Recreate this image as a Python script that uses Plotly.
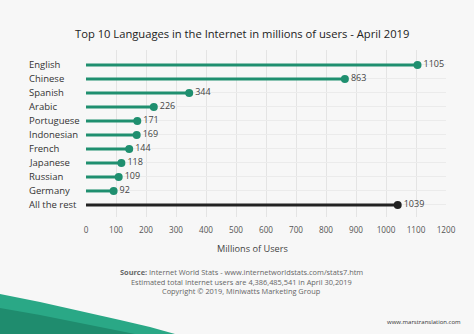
import plotly.graph_objects as go

languages = ["English", "Chinese", "Spanish", "Arabic", "Portuguese", "Indonesian",
             "French", "Japanese", "Russian", "Germany", "All the rest"]
users = [1105, 863, 344, 226, 171, 169, 144, 118, 109, 92, 1039]
x_ticks = [0, 100, 200, 300, 400, 500, 600, 700, 800, 900, 1000, 1100, 1200]

GREEN = "#1f8f6f"
DARK = "#222222"
BG = "#f7f7f7"
FONT = "Open Sans"

W, H = 474, 334
L, R, T, B = 86, 28, 50, 117
PW, PH = W - L - R, H - T - B


def px2paper(px, py):
    return (px - L) / PW, (H - B - py) / PH


fig = go.Figure()

for i, (lang, v) in enumerate(zip(languages, users)):
    col = DARK if lang == "All the rest" else GREEN
    fig.add_trace(go.Scatter(
        x=[0, v], y=[i, i], mode="lines",
        line=dict(color=col, width=3), hoverinfo="skip", showlegend=False))
    fig.add_trace(go.Scatter(
        x=[v], y=[i], mode="markers+text", text=[str(v)],
        textposition="middle right",
        textfont=dict(family=FONT, size=9, color="#444"),
        marker=dict(color=col, size=8), showlegend=False))

annotations = []
for i, lang in enumerate(languages):
    xp, _ = px2paper(27, 0)
    annotations.append(dict(x=xp, xref="paper", y=i, yref="y", text=lang,
                            xanchor="left", yanchor="middle", showarrow=False,
                            font=dict(family=FONT, size=9.5, color="#333")))


def ann(px, py, text, size, color="#555", xanchor="center"):
    xp, yp = px2paper(px, py)
    annotations.append(dict(x=xp, y=yp, xref="paper", yref="paper", text=text,
                            showarrow=False, xanchor=xanchor, yanchor="middle",
                            font=dict(family=FONT, size=size, color=color)))


ann(241.5, 33, "Top 10 Languages in the Internet in millions of users - April 2019", 11.2, "#222")
ann(252, 248, "Millions of Users", 9.2, "#444")
ann(241.5, 272, "<b>Source:</b> Internet World Stats - www.internetworldstats.com/stats7.htm", 7.4, "#666")
ann(241.5, 281.5, "Estimated total Internet users are 4,386,485,541 in April 30,2019", 7.4, "#666")
ann(241.5, 291, "Copyright © 2019, Miniwatts Marketing Group", 7.4, "#666")
ann(463, 322, "www.marstranslation.com", 6, "#333", xanchor="right")

shapes = []


def path_px(points):
    pts = [px2paper(x, y) for x, y in points]
    s = "M {} {}".format(*pts[0])
    for p in pts[1:]:
        s += " L {} {}".format(*p)
    return s + " Z"


light = [(0, 294), (40, 302), (80, 311), (120, 320), (150, 327), (175, 334), (0, 334)]
dark = [(0, 308), (40, 315), (80, 323), (110, 329), (135, 334), (0, 334)]
shapes.append(dict(type="path", xref="paper", yref="paper", path=path_px(light),
                   fillcolor="#2aa886", line=dict(width=0), layer="above"))
shapes.append(dict(type="path", xref="paper", yref="paper", path=path_px(dark),
                   fillcolor="#1f8c6e", line=dict(width=0), layer="above"))

fig.update_layout(
    width=W, height=H,
    margin=dict(l=L, r=R, t=T, b=B),
    paper_bgcolor=BG, plot_bgcolor=BG,
    annotations=annotations, shapes=shapes,
    xaxis=dict(range=[0, 1200], tickvals=x_ticks, showgrid=True,
               gridcolor="#e4e4e4", gridwidth=1, zeroline=False,
               tickfont=dict(family=FONT, size=8.2, color="#555"), ticks="",
               ticklabelstandoff=7,
               showline=False, fixedrange=True),
    yaxis=dict(range=[10.86, -1.07], tickvals=list(range(len(languages))),
               showticklabels=False, showgrid=True, gridcolor="#ebebeb",
               zeroline=False, showline=False, fixedrange=True),
    showlegend=False,
)

fig.write_html("out.html")
